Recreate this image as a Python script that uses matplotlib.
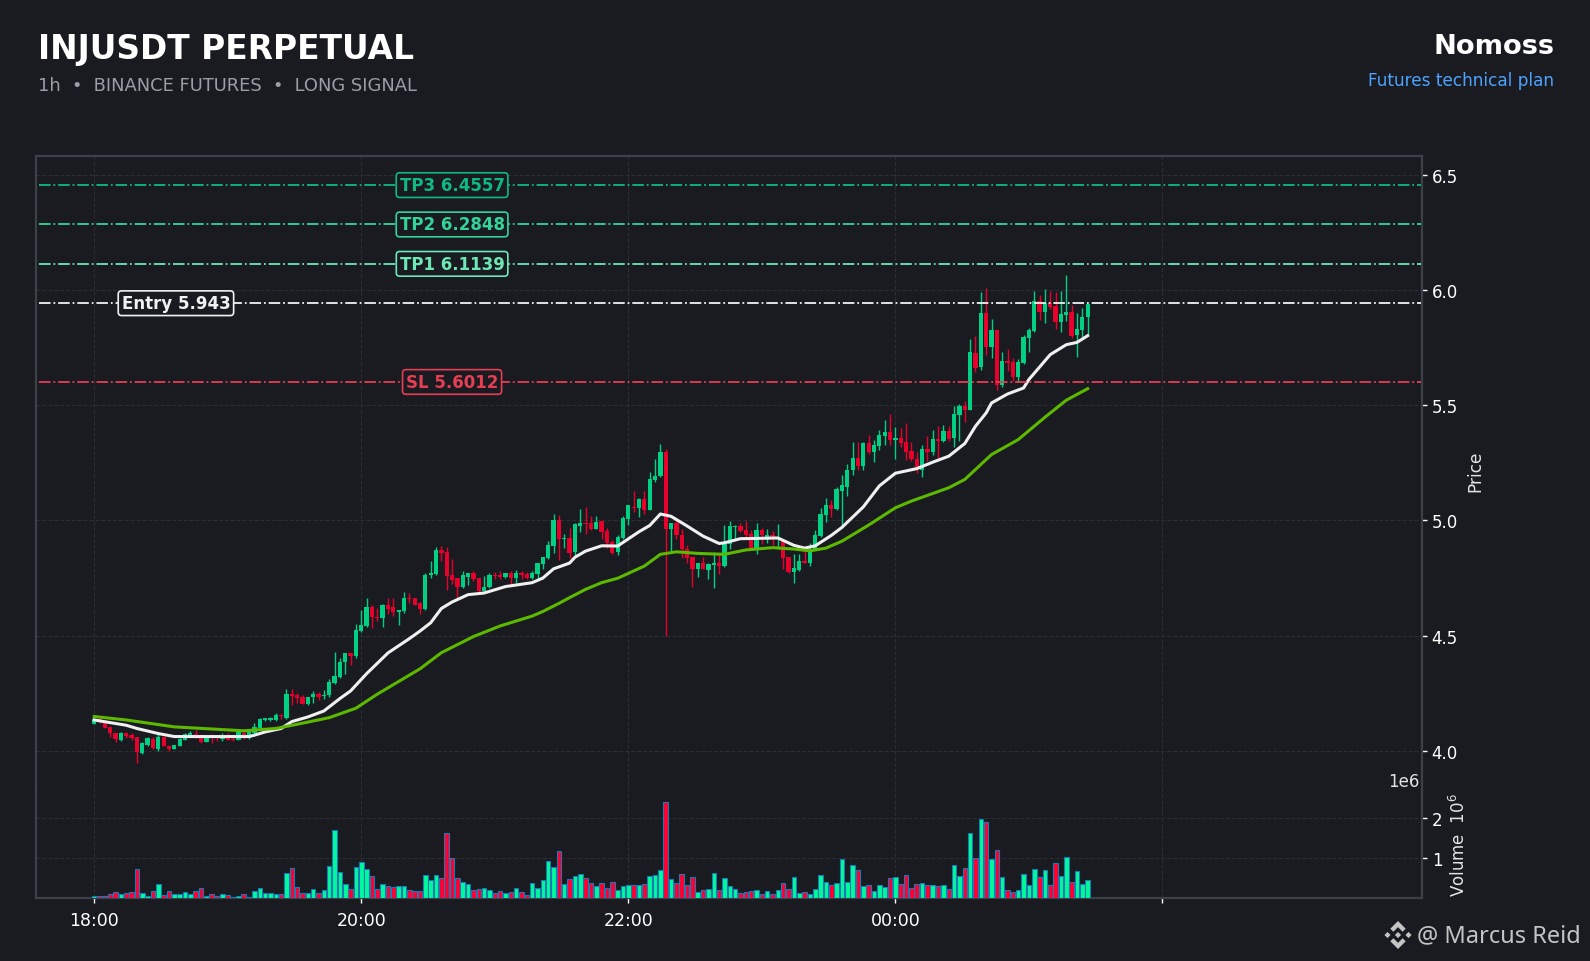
import matplotlib
matplotlib.use('Agg')
import matplotlib.pyplot as plt
from matplotlib.patches import Polygon
from matplotlib.ticker import ScalarFormatter

plt.rcParams['font.family'] = ['DejaVu Sans']

# candles
opens = [4.116,4.137,4.126,4.103,4.079,4.049,4.079,4.069,4.059,3.990,
    4.027,4.053,4.007,4.061,4.020,4.009,4.022,4.046,4.068,4.074,
    4.061,4.039,4.062,4.059,4.053,4.062,4.053,4.048,4.079,4.056,
    4.076,4.097,4.133,4.136,4.136,4.155,4.144,4.246,4.243,4.233,
    4.202,4.233,4.246,4.238,4.241,4.293,4.319,4.386,4.423,4.410,
    4.519,4.540,4.623,4.579,4.577,4.632,4.623,4.604,4.605,4.663,
    4.662,4.640,4.614,4.762,4.767,4.870,4.861,4.762,4.749,4.710,
    4.756,4.770,4.749,4.695,4.710,4.762,4.763,4.753,4.770,4.749,
    4.772,4.766,4.749,4.766,4.809,4.835,4.889,5.004,4.920,4.926,
    4.861,4.978,4.987,4.987,4.964,4.996,4.954,4.906,4.863,4.922,
    5.005,5.059,5.056,5.091,5.045,5.174,5.191,5.295,4.963,4.987,
    4.939,4.877,4.840,4.789,4.814,4.783,4.806,4.814,4.801,4.899,
    4.971,4.978,4.957,4.942,4.877,4.957,4.918,4.939,4.923,4.911,
    4.840,4.776,4.783,4.822,4.814,4.874,4.932,5.022,5.065,5.048,
    5.130,5.147,5.217,5.273,5.238,5.338,5.299,5.325,5.368,5.386,
    5.351,5.360,5.342,5.303,5.267,5.220,5.312,5.299,5.355,5.347,
    5.390,5.357,5.457,5.498,5.481,5.728,5.667,5.902,5.754,5.828,
    5.589,5.693,5.689,5.624,5.685,5.793,5.824,5.954,5.906,5.945,
    5.932,5.863,5.893,5.906,5.806,5.828,5.881]
highs = [4.144,4.140,4.130,4.103,4.079,4.082,4.082,4.076,4.059,4.039,
    4.058,4.058,4.072,4.061,4.027,4.027,4.055,4.076,4.085,4.091,
    4.075,4.062,4.072,4.068,4.079,4.076,4.065,4.084,4.094,4.094,
    4.120,4.144,4.144,4.149,4.166,4.159,4.270,4.270,4.253,4.241,
    4.234,4.260,4.256,4.264,4.311,4.431,4.402,4.426,4.423,4.552,
    4.613,4.662,4.631,4.618,4.639,4.662,4.665,4.613,4.691,4.686,
    4.662,4.647,4.770,4.825,4.886,4.887,4.886,4.834,4.749,4.779,
    4.773,4.782,4.749,4.759,4.773,4.776,4.779,4.773,4.779,4.786,
    4.782,4.776,4.782,4.814,4.840,4.912,5.030,5.022,4.942,4.968,
    4.990,5.051,5.058,5.019,5.019,4.996,4.968,4.915,4.935,5.020,
    5.065,5.130,5.097,5.126,5.211,5.267,5.333,5.311,4.990,4.997,
    4.964,4.895,4.840,4.814,4.843,4.814,4.864,4.853,4.981,4.999,
    4.980,4.990,4.996,4.957,4.990,4.968,4.965,4.954,4.986,4.911,
    4.840,4.853,4.853,4.874,4.900,4.957,5.052,5.096,5.087,5.146,
    5.198,5.243,5.341,5.341,5.341,5.370,5.351,5.393,5.438,5.462,
    5.406,5.403,5.423,5.341,5.296,5.326,5.365,5.394,5.409,5.416,
    5.409,5.496,5.504,5.517,5.787,5.799,5.991,6.009,5.874,5.828,
    5.730,5.746,5.707,5.701,5.806,5.837,5.996,5.978,6.006,5.996,
    5.993,5.996,6.066,5.935,5.900,5.922,5.939]
lows = [4.116,4.120,4.100,4.062,4.040,4.043,4.056,4.048,3.949,3.985,
    4.022,4.010,4.001,4.019,4.001,4.007,4.020,4.045,4.062,4.056,
    4.032,4.037,4.033,4.043,4.042,4.045,4.042,4.045,4.053,4.053,
    4.071,4.094,4.131,4.129,4.131,4.137,4.140,4.198,4.207,4.202,
    4.201,4.209,4.221,4.227,4.235,4.292,4.316,4.332,4.374,4.403,
    4.516,4.536,4.535,4.565,4.538,4.594,4.587,4.546,4.598,4.640,
    4.632,4.594,4.611,4.750,4.764,4.824,4.698,4.724,4.665,4.707,
    4.718,4.738,4.689,4.692,4.707,4.744,4.747,4.750,4.725,4.727,
    4.744,4.744,4.744,4.744,4.788,4.831,4.860,4.828,4.881,4.837,
    4.845,4.949,4.941,4.957,4.961,4.921,4.882,4.853,4.850,4.919,
    4.980,5.036,5.015,5.028,5.044,5.166,5.188,4.499,4.866,4.921,
    4.838,4.814,4.713,4.756,4.788,4.747,4.708,4.769,4.798,4.877,
    4.915,4.951,4.918,4.877,4.854,4.899,4.902,4.892,4.877,4.791,
    4.773,4.728,4.781,4.814,4.802,4.874,4.929,4.993,5.016,5.045,
    4.975,5.108,5.199,5.217,5.221,5.289,5.253,5.308,5.328,5.329,
    5.266,5.318,5.264,5.256,5.204,5.189,5.259,5.285,5.273,5.341,
    5.347,5.318,5.344,5.426,5.480,5.644,5.654,5.720,5.705,5.566,
    5.579,5.649,5.607,5.602,5.678,5.733,5.819,5.869,5.855,5.917,
    5.832,5.816,5.867,5.793,5.709,5.798,5.806]
closes = [4.137,4.130,4.100,4.076,4.050,4.079,4.063,4.056,3.993,4.035,
    4.055,4.013,4.061,4.022,4.009,4.024,4.050,4.074,4.076,4.061,
    4.037,4.058,4.058,4.056,4.063,4.048,4.048,4.081,4.062,4.081,
    4.103,4.137,4.142,4.143,4.155,4.152,4.246,4.238,4.230,4.204,
    4.233,4.246,4.235,4.243,4.299,4.324,4.387,4.423,4.412,4.523,
    4.545,4.623,4.581,4.575,4.632,4.614,4.601,4.610,4.662,4.660,
    4.634,4.614,4.762,4.770,4.870,4.857,4.759,4.743,4.710,4.762,
    4.770,4.744,4.695,4.712,4.762,4.757,4.754,4.772,4.749,4.770,
    4.762,4.749,4.772,4.814,4.840,4.892,5.004,4.918,4.926,4.860,
    4.983,4.987,4.984,4.965,4.994,4.950,4.900,4.860,4.928,5.009,
    5.065,5.056,5.093,5.045,5.178,5.195,5.295,4.963,4.987,4.937,
    4.877,4.835,4.789,4.814,4.789,4.809,4.814,4.801,4.899,4.974,
    4.977,4.954,4.939,4.877,4.957,4.935,4.939,4.918,4.925,4.835,
    4.775,4.792,4.822,4.814,4.874,4.935,5.026,5.065,5.049,5.135,
    5.152,5.221,5.272,5.238,5.338,5.299,5.329,5.373,5.386,5.351,
    5.360,5.338,5.299,5.267,5.230,5.312,5.299,5.355,5.347,5.390,
    5.355,5.464,5.498,5.481,5.733,5.663,5.902,5.754,5.828,5.589,
    5.693,5.685,5.624,5.689,5.798,5.828,5.954,5.906,5.945,5.928,
    5.863,5.897,5.906,5.802,5.831,5.884,5.939]
volumes_k = [67,67,67,117,167,117,142,167,720,142,
    67,192,368,92,192,117,117,167,117,192,
    268,67,117,67,117,92,42,67,117,42,
    192,268,142,142,117,117,619,745,293,142,
    142,243,142,218,795,1699,644,368,243,770,
    895,720,544,243,368,318,293,318,318,218,
    192,192,569,444,569,494,1623,996,494,418,
    368,218,243,268,218,142,192,142,167,268,
    167,92,393,268,444,920,770,1172,368,469,
    544,594,494,393,318,393,268,418,218,318,
    343,343,343,368,544,569,695,2402,469,393,
    594,343,519,167,218,243,619,218,494,318,
    243,142,167,192,218,117,192,117,218,393,
    243,519,142,167,117,243,569,418,343,393,
    971,418,820,695,318,343,192,343,293,494,
    519,368,569,268,368,393,343,343,318,343,
    243,820,544,745,1623,996,1975,1900,971,1197,
    519,218,167,218,594,343,720,519,695,343,
    870,544,1021,418,669,368,444]

# the two moving averages, sampled along the drawn lines
fast_idx = [0,6,8,12,15,20,25,29,30,32,35,37,40,43,46,48,51,55,59,61,63,65,67,70,73,77,82,84,86,89,90,92,95,98,
    102,104,106,108,111,114,117,118,121,124,128,131,133,135,138,140,144,147,150,154,157,160,163,165,167,168,171,174,175,179,182,184,186]
fast_ma = [4.134,4.111,4.097,4.075,4.062,4.062,4.062,4.062,4.068,4.082,4.097,4.127,4.147,4.173,4.227,4.260,4.335,4.425,4.487,4.520,4.556,4.618,4.646,4.678,4.685,4.713,4.730,4.750,4.790,4.815,4.840,4.867,4.890,4.889,
    4.951,4.978,5.028,5.018,4.976,4.932,4.900,4.903,4.921,4.922,4.924,4.892,4.880,4.890,4.935,4.970,5.059,5.150,5.205,5.225,5.253,5.279,5.334,5.409,5.467,5.510,5.549,5.575,5.612,5.720,5.763,5.773,5.802]
slow_idx = [0,6,15,28,34,39,44,49,53,61,65,71,76,82,84,87,89,92,95,98,103,106,109,113,118,122,127,131,134,137,140,145,150,153,160,163,168,173,178,182,186]
slow_ma = [4.149,4.134,4.104,4.087,4.097,4.120,4.144,4.185,4.246,4.356,4.426,4.496,4.542,4.585,4.605,4.640,4.665,4.701,4.730,4.749,4.802,4.853,4.864,4.857,4.853,4.872,4.882,4.876,4.868,4.880,4.910,4.980,5.055,5.084,5.142,5.178,5.286,5.351,5.448,5.522,5.572]

level_names = ['TP3 6.4557','TP2 6.2848','TP1 6.1139','Entry 5.943','SL 5.6012']
level_prices = [6.4557,6.2848,6.1139,5.943,5.6012]
level_colors = ['#10b981','#34d399','#6ee7b7','#f1f1f1','#e63e55']
level_label_x = [67,67,67,15.3,67]

time_ticks = [0,50,100,150,200]
time_labels = ['18:00','20:00','22:00','00:00','']

BG = '#191b20'
UP = '#00d084'
DOWN = '#e8002d'
VOL_UP = '#00fa9a'
VOL_DOWN = '#ff0033'
VOL_EDGE = '#1f77b4'
SPINE = '#3c4048'
GRIDC = '#2a2d33'
W, H = 1590, 962


def px_axes(left, top, right, bottom):
    # axes box given in picture pixels
    return [left/W, 1-bottom/H, (right-left)/W, (bottom-top)/H]


def draw_logo(fig):
    ax = fig.add_axes(px_axes(1384, 922, 1412, 950))
    ax.set_xlim(-1, 1)
    ax.set_ylim(-1, 1)
    ax.axis('off')
    shapes = [
        [(0,.22),(.22,0),(0,-.22),(-.22,0)],
        [(-.75,.22),(-.53,0),(-.75,-.22),(-.97,0)],
        [(.75,.22),(.97,0),(.75,-.22),(.53,0)],
        [(0,1),(.55,.45),(.33,.23),(0,.56),(-.33,.23),(-.55,.45)],
        [(0,-1),(.55,-.45),(.33,-.23),(0,-.56),(-.33,-.23),(-.55,-.45)],
    ]
    for s in shapes:
        ax.add_patch(Polygon(s, closed=True, fc='#c4c4c4', ec='none'))


def main():
    fig = plt.figure(figsize=(W/100, H/100), dpi=100, facecolor=BG)
    ax = fig.add_axes(px_axes(36, 157, 1422, 791), facecolor=BG)
    vax = fig.add_axes(px_axes(36, 791, 1422, 899.3), facecolor=BG, sharex=ax)

    x = list(range(len(closes)))
    up = [c >= o for o, c in zip(opens, closes)]
    candle_colors = [UP if u else DOWN for u in up]

    ax.vlines(x, lows, highs, colors=candle_colors, linewidth=1.0, zorder=3)
    bottoms = [min(o, c) for o, c in zip(opens, closes)]
    heights = [max(abs(c-o), 0.004) for o, c in zip(opens, closes)]
    ax.bar(x, heights, bottom=bottoms, width=0.8, color=candle_colors, linewidth=0, zorder=3)

    ax.plot(fast_idx, fast_ma, color='#f0f0f0', lw=2.2, zorder=4, solid_joinstyle='round')
    ax.plot(slow_idx, slow_ma, color='#5cb800', lw=2.2, zorder=4, solid_joinstyle='round')

    for name, price, c, lx in zip(level_names, level_prices, level_colors, level_label_x):
        ax.plot([-10.4, 248.5], [price, price], color=c, lw=1.3, linestyle='-.', zorder=5)
        ax.text(lx, price, name, color=c, fontsize=12, fontweight='bold', ha='center', va='center', zorder=6,
                bbox=dict(boxstyle='round,pad=0.2', fc=BG, ec=c, lw=1.2))

    vol_colors = [VOL_UP if u else VOL_DOWN for u in up]
    vax.bar(x, [v*1000 for v in volumes_k], width=0.85, color=vol_colors, edgecolor=VOL_EDGE, linewidth=0.8, zorder=3)

    ax.set_xlim(-10.9, 248.6)
    ax.set_ylim(3.830, 6.582)
    vax.set_ylim(0, 2.70e6)

    ax.set_yticks([4.0, 4.5, 5.0, 5.5, 6.0, 6.5])
    ax.set_yticklabels(['4.0', '4.5', '5.0', '5.5', '6.0', '6.5'])
    vax.set_yticks([1e6, 2e6])
    vax.yaxis.set_major_formatter(ScalarFormatter(useMathText=False))
    vax.set_xticks(time_ticks)
    vax.set_xticklabels(time_labels)

    for a in (ax, vax):
        a.yaxis.tick_right()
        a.yaxis.set_label_position('right')
        a.grid(True, color=GRIDC, linestyle='--', linewidth=0.8, zorder=0)
        a.set_axisbelow(True)
        for s in a.spines.values():
            s.set_color(SPINE)
            s.set_linewidth(1.6)
        a.tick_params(axis='both', colors='white', labelsize=12, length=3.5, width=1)
    ax.spines['bottom'].set_visible(False)
    vax.spines['top'].set_visible(False)
    ax.tick_params(axis='x', length=0, labelbottom=False)
    vax.tick_params(axis='x', pad=6, labelsize=12.5)
    vax.yaxis.get_offset_text().set_color('#e4e4e4')
    vax.yaxis.get_offset_text().set_fontsize(12)
    vax.yaxis.get_offset_text().set_x(0.9985)

    ax.set_ylabel('Price', color='#e4e4e4', fontsize=12.2)
    ax.yaxis.set_label_coords(1.0318, 0.504)
    vax.set_ylabel('Volume  $10^{6}$', color='#e4e4e4', fontsize=12)
    vax.yaxis.set_label_coords(1.0195, 0.5)

    fig.text(38/W, 1-50/H, 'INJUSDT PERPETUAL', color='white', fontsize=23.7, fontweight='bold', va='center')
    fig.text(38/W, 1-86/H, '1h  •  BINANCE FUTURES  •  LONG SIGNAL', color='#9a9ea6', fontsize=12.9, va='center')
    fig.text(1554/W, 1-47/H, 'Nomoss', color='white', fontsize=19.7, fontweight='bold', va='center', ha='right')
    fig.text(1554/W, 1-81/H, 'Futures technical plan', color='#4da3ff', fontsize=12.2, va='center', ha='right')
    fig.text(1581/W, 1-936/H, '@ Marcus Reid', color='#c4c4c4', fontsize=17, family='Noto Sans', va='center', ha='right')
    draw_logo(fig)

    fig.savefig('out.png', dpi=100, facecolor=BG)


if __name__ == "__main__":
    main()
